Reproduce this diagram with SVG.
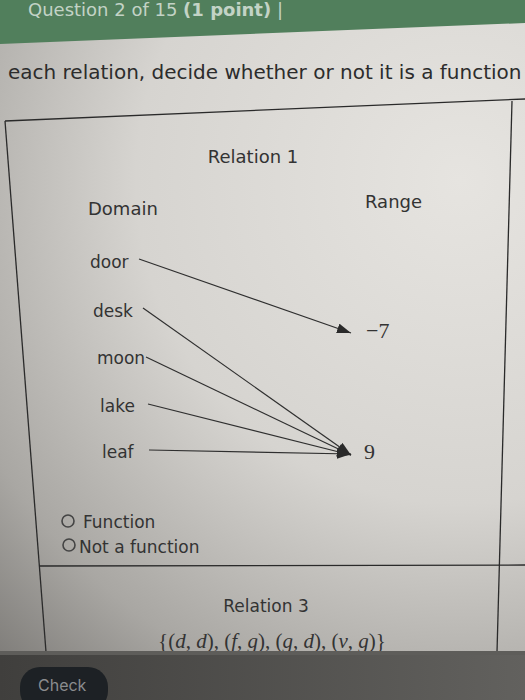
<svg xmlns="http://www.w3.org/2000/svg" width="525" height="700" viewBox="0 0 525 700">
<defs>
<radialGradient id="bg" cx="460" cy="180" r="720" gradientUnits="userSpaceOnUse">
<stop offset="0" stop-color="#e6e4e0"/>
<stop offset="0.45" stop-color="#d6d4d0"/>
<stop offset="0.75" stop-color="#a9a7a3"/>
<stop offset="1" stop-color="#6c6a67"/>
</radialGradient>
<linearGradient id="bar" x1="0" y1="0" x2="1" y2="0">
<stop offset="0" stop-color="#403f3d"/>
<stop offset="1" stop-color="#62615e"/>
</linearGradient>
<marker id="ah" viewBox="0 0 14 10" refX="14" refY="5" markerWidth="14" markerHeight="10" markerUnits="userSpaceOnUse" orient="auto">
<path d="M0,0 L14,5 L0,10 Z" fill="#2a2a2a"/>
</marker>
<style>
.t{font-family:"DejaVu Sans",Verdana,sans-serif;fill:#333;}
.lbl{font-size:17px;}
.num{font-family:"Liberation Serif","Times New Roman",serif;font-size:22px;fill:#333;}
.ln{stroke:#2a2a2a;stroke-width:1.3;fill:none;}
.edge{stroke:#2f2f2f;stroke-width:1.2;fill:none;marker-end:url(#ah);}
.rad{fill:none;stroke:#444;stroke-width:1.6;}
</style>
</defs>
<rect x="0" y="0" width="525" height="700" fill="url(#bg)"/>
<polygon points="0,0 525,0 525,23 0,44" fill="#517f5c"/>
<text x="28" y="16" font-family="'DejaVu Sans',Verdana,sans-serif" font-size="18" fill="#c3d3c6">Question 2 of 15 <tspan font-weight="bold">(1 point)</tspan> |</text>
<text class="t" x="8" y="79" font-size="20" style="fill:#2c2c2c">each relation, decide whether or not it is a function</text>

<g id="frame">
<line class="ln" x1="5" y1="121" x2="525" y2="99"/>
<line class="ln" x1="5" y1="121" x2="46" y2="652"/>
<line class="ln" x1="512" y1="101" x2="497" y2="652"/>
<line class="ln" x1="39" y1="566" x2="525" y2="565"/>
</g>

<g id="title"><text class="t" x="253" y="163" font-size="18" text-anchor="middle">Relation 1</text></g>
<g id="domain-header"><text class="t" x="88" y="215" font-size="18">Domain</text></g>
<g id="range-header"><text class="t" x="365" y="208" font-size="18">Range</text></g>

<g id="door"><text class="t lbl" x="90" y="268">door</text></g>
<g id="desk"><text class="t lbl" x="93" y="317">desk</text></g>
<g id="moon"><text class="t lbl" x="97" y="364">moon</text></g>
<g id="lake"><text class="t lbl" x="100" y="412">lake</text></g>
<g id="leaf"><text class="t lbl" x="102" y="458">leaf</text></g>
<g id="neg7"><text class="num" x="366" y="338">−7</text></g>
<g id="nine"><text class="num" x="364" y="459">9</text></g>

<g id="connectors">
<line class="edge" x1="139" y1="259" x2="351" y2="333"/>
<line class="edge" x1="143" y1="308" x2="351" y2="455"/>
<line class="edge" x1="146" y1="357" x2="351" y2="455"/>
<line class="edge" x1="148" y1="404" x2="351" y2="455"/>
<line class="edge" x1="149" y1="450" x2="351" y2="454"/>
</g>

<g id="opt-function">
<circle class="rad" cx="68" cy="521" r="6"/>
<text class="t lbl" x="83" y="528">Function</text>
</g>
<g id="opt-not">
<circle class="rad" cx="69" cy="545" r="6"/>
<text class="t lbl" x="79" y="553">Not a function</text>
</g>

<g id="relation3">
<text class="t" x="266" y="612" font-size="17" text-anchor="middle">Relation 3</text>
<text x="272" y="648" text-anchor="middle" font-family="Liberation Serif,serif" font-size="21" fill="#333">{(<tspan font-style="italic">d</tspan>, <tspan font-style="italic">d</tspan>), (<tspan font-style="italic">f</tspan>, <tspan font-style="italic">g</tspan>), (<tspan font-style="italic">g</tspan>, <tspan font-style="italic">d</tspan>), (<tspan font-style="italic">v</tspan>, <tspan font-style="italic">g</tspan>)}</text>
</g>

<rect x="0" y="651" width="525" height="49" fill="url(#bar)"/>
<rect x="0" y="651" width="525" height="4" fill="#5e5d5a"/>
<g id="check">
<rect x="20" y="667" width="88" height="44" rx="20" fill="#1d2125"/>
<text x="38" y="691" font-family="Inter,'DejaVu Sans',sans-serif" font-size="16" fill="#8a8c8e">Check</text>
</g>
</svg>
